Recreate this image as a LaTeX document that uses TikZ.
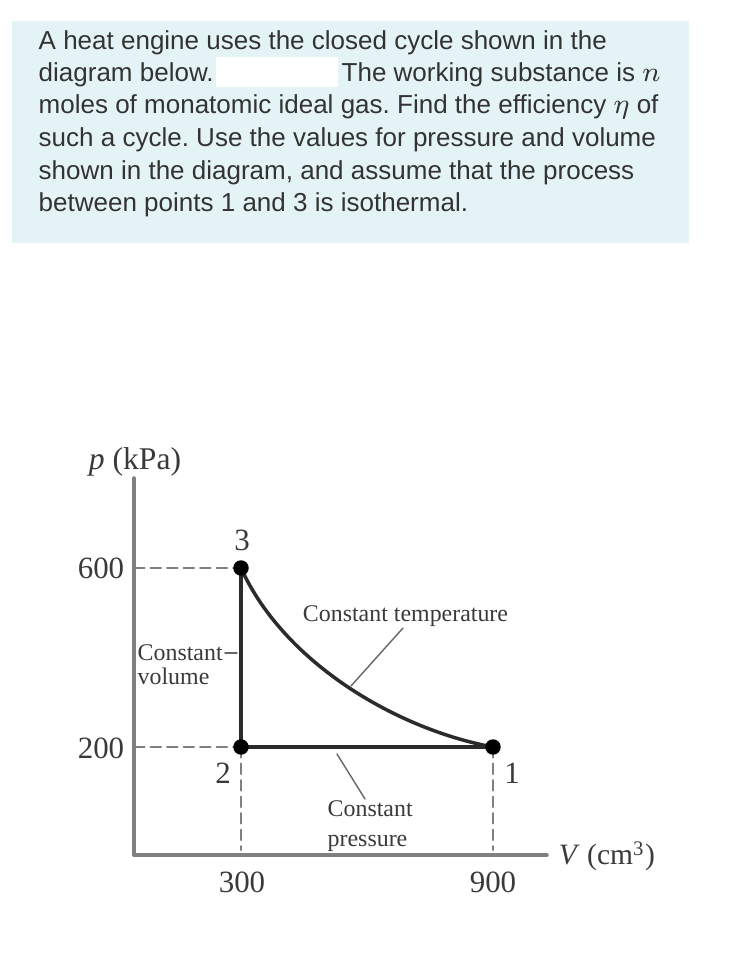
\documentclass[tikz,border=0pt]{standalone}
\usepackage{amsmath, fontspec, tkz-euclide}
\setmainfont{Liberation Serif}
\newfontfamily\bodyfont{Liberation Sans}
\DeclareMathSizes{7.4}{8}{6}{5}
\frenchspacing
\definecolor{boxcolor}{HTML}{E4F4F6}
\definecolor{bodycolor}{HTML}{333333}
\definecolor{labelcolor}{HTML}{3A3A3A}
\definecolor{leadercolor}{HTML}{666666}
\definecolor{axiscolor}{HTML}{808080}
\definecolor{cyclecolor}{HTML}{2B2B2B}
\tikzset{
    bodytext/.style = {anchor = base west, inner sep = 0, text = bodycolor, font = \bodyfont\fontsize{7.4}{9}\selectfont},
    numtext/.style = {anchor = base, inner sep = 0, text = labelcolor, font = \fontsize{8.8}{10}\selectfont},
    smalltext/.style = {inner sep = 0, text = labelcolor, font = \fontsize{6.8}{6.8}\selectfont}
}

\begin{document}
\begin{tikzpicture}
    \useasboundingbox (0,0) rectangle (7.39,9.63);
    \fill[boxcolor] (0.12,7.20) rectangle (6.89,9.42);
    \fill[white] (2.16,8.76) rectangle (3.38,9.06);
    \foreach \ypos/\line in {9.14/{A heat engine uses the closed cycle shown in the},
        8.82/{diagram below.},
        8.50/{moles of monatomic ideal gas. Find the efficiency $\eta$ of},
        8.17/{such a cycle. Use the values for pressure and volume},
        7.83/{shown in the diagram, and assume that the process},
        7.52/{between points 1 and 3 is isothermal.}}
        \node[bodytext] (line\ypos) at (0.38,\ypos) {\line};
    \node[bodytext] (linetwo) at (3.41,8.82) {The working substance is $n$};

    \tkzDefPoints{1.34/1.08/O, 1.34/4.85/Y, 5.47/1.08/X}
    \tkzDefPoints{1.34/3.95/A, 1.34/2.16/B, 2.41/1.13/C, 4.93/1.13/D}
    \tkzDefPoints{4.93/2.16/P, 2.41/2.16/Q, 2.41/3.95/R}
    \tkzDefPoints{2.85/2.98/S, 4.00/2.33/T}
    \tkzDefPoints{4.03/3.35/E, 3.51/2.77/F, 3.37/2.09/G, 3.65/1.64/H, 2.25/3.10/I, 2.37/3.10/J}

    \tkzDrawSegments[axiscolor, line width = 1pt](O,Y O,X)
    \tkzDrawSegments[axiscolor, line width = 0.6pt, dash pattern = on 3pt off 1.7pt](A,R B,Q Q,C P,D)
    \tkzDrawSegments[leadercolor, line width = 0.4pt](E,F G,H I,J)
    \tkzDrawSegments[cyclecolor, line width = 1.1pt](R,Q Q,P)
    \draw[cyclecolor, line width = 1pt] (R) .. controls (S) and (T) .. (P);
    \tkzDrawPoints[fill = black, color = black, size = 4](P,Q,R)

    \node[numtext] (val600) at (1.01,3.85) {600};
    \node[numtext] (val200) at (1.01,2.05) {200};
    \node[numtext] (val300) at (2.42,0.71) {300};
    \node[numtext] (val900) at (4.93,0.71) {900};
    \node[numtext] (pt3) at (2.42,4.13) {3};
    \node[numtext] (pt2) at (2.23,1.79) {2};
    \node[numtext] (pt1) at (5.12,1.79) {1};
    \node[numtext, font = \fontsize{9}{10}\selectfont] (ylabel) at (1.35,4.93) {\textit{p} (kPa)};
    \node[numtext, font = \fontsize{8.4}{10}\selectfont] (xlabel) at (6.07,0.98) {\textit{V} (cm\textsuperscript{3})};
    \node[smalltext] (temp) at (4.055,3.47) {Constant temperature};
    \node[smalltext, align = left, anchor = west] (vol) at (1.37,2.98) {Constant\\volume};
    \node[smalltext, align = left, anchor = west, font = \fontsize{6.8}{8.4}\selectfont] (press) at (3.27,1.37) {Constant\\pressure};
\end{tikzpicture}
\end{document}
